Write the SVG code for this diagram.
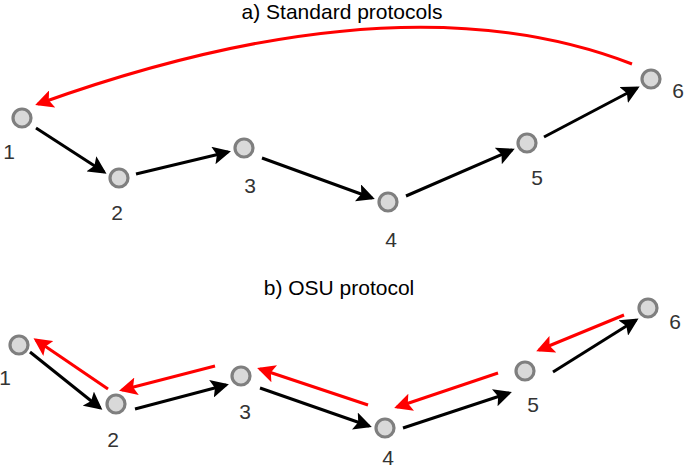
<svg xmlns="http://www.w3.org/2000/svg" width="685" height="469" viewBox="0 0 685 469">
<style>
.n{fill:#d9d9d9;stroke:#7f7f7f;stroke-width:3.2}
.t{font-family:"Liberation Sans",Arial,sans-serif;font-size:21px;fill:#333;text-anchor:middle}
.h{font-family:"Liberation Sans",Arial,sans-serif;font-size:21px;fill:#000;text-anchor:middle}
.k{stroke:#000;stroke-width:3;fill:none;marker-end:url(#ak)}
.r{stroke:#f00;stroke-width:3;fill:none;marker-end:url(#ar)}
</style>
<defs>
<marker id="ak" markerWidth="6" markerHeight="6" refX="5" refY="3" orient="auto" markerUnits="strokeWidth"><path d="M0,0 L6,3 L0,6 L1.2,3 Z" fill="#000"/></marker>
<marker id="ar" markerWidth="6" markerHeight="6" refX="5" refY="3" orient="auto" markerUnits="strokeWidth"><path d="M0,0 L6,3 L0,6 L1.2,3 Z" fill="#f00"/></marker>
</defs>
<rect width="685" height="469" fill="#fff"/>
<text class="h" x="342" y="19">a) Standard protocols</text>
<text class="h" x="339" y="295">b) OSU protocol</text>
<g id="connectors">
<path class="k" d="M36,128 L104,172"/>
<path class="k" d="M136,174 L228,152"/>
<path class="k" d="M262,158 L372,198"/>
<path class="k" d="M406,196 L512,150"/>
<path class="k" d="M544,137 L637,88"/>
<path class="r" d="M632,64 Q400,-26 38,104"/>
<path class="k" d="M30,352 L100,408"/>
<path class="r" d="M108,389 L36,340"/>
<path class="k" d="M135,409 L226,385"/>
<path class="r" d="M215,366 L122,390"/>
<path class="k" d="M260,388 L369,426"/>
<path class="r" d="M368,405 L260,369"/>
<path class="k" d="M403,428 L509,393"/>
<path class="r" d="M498,373 L397,407"/>
<path class="k" d="M553,372 L636,320"/>
<path class="r" d="M624,315 L539,350"/>
</g>
<g id="a1"><circle class="n" cx="22" cy="118" r="9"/><text class="t" x="9" y="159">1</text></g>
<g id="a2"><circle class="n" cx="119" cy="178" r="9"/><text class="t" x="117" y="220">2</text></g>
<g id="a3"><circle class="n" cx="244" cy="148" r="9"/><text class="t" x="250" y="193">3</text></g>
<g id="a4"><circle class="n" cx="388" cy="202" r="9"/><text class="t" x="391" y="247">4</text></g>
<g id="a5"><circle class="n" cx="527" cy="143" r="9"/><text class="t" x="537" y="185">5</text></g>
<g id="a6"><circle class="n" cx="651" cy="79" r="9"/><text class="t" x="678" y="98">6</text></g>
<g id="b1"><circle class="n" cx="19" cy="345" r="9"/><text class="t" x="5" y="385">1</text></g>
<g id="b2"><circle class="n" cx="116" cy="404" r="9"/><text class="t" x="113" y="447">2</text></g>
<g id="b3"><circle class="n" cx="241" cy="376" r="9"/><text class="t" x="245" y="419">3</text></g>
<g id="b4"><circle class="n" cx="385" cy="428" r="9"/><text class="t" x="388" y="465">4</text></g>
<g id="b5"><circle class="n" cx="525" cy="371" r="9"/><text class="t" x="533" y="412">5</text></g>
<g id="b6"><circle class="n" cx="648" cy="308" r="9"/><text class="t" x="675" y="329">6</text></g>
</svg>
